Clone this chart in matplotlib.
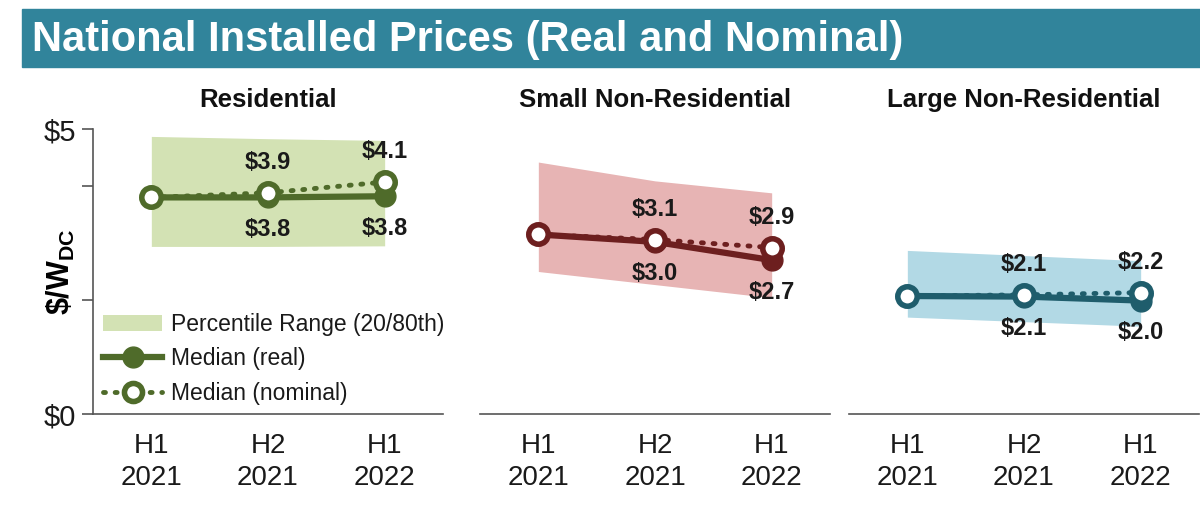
import matplotlib
matplotlib.use("Agg")
import matplotlib.pyplot as plt
from matplotlib.patches import Patch, Rectangle
from matplotlib.lines import Line2D

plt.rcParams['font.family'] = ['Liberation Sans', 'DejaVu Sans']
plt.rcParams['mathtext.fontset'] = 'custom'
plt.rcParams['mathtext.rm'] = 'Liberation Sans'
plt.rcParams['mathtext.bf'] = 'Liberation Sans:bold'

# data
periods = ["H1\n2021", "H2\n2021", "H1\n2022"]
segments = ["Residential", "Small Non-Residential", "Large Non-Residential"]

res_real = [3.80, 3.80, 3.82]
res_nom = [3.80, 3.88, 4.07]
res_p20 = [2.94, 2.94, 2.95]
res_p80 = [4.87, 4.83, 4.80]
res_lbl_nom = ["", "$3.9", "$4.1"]
res_lbl_real = ["", "$3.8", "$3.8"]

small_real = [3.15, 3.02, 2.70]
small_nom = [3.15, 3.06, 2.92]
small_p20 = [2.50, 2.27, 2.04]
small_p80 = [4.42, 4.09, 3.88]
small_lbl_nom = ["", "$3.1", "$2.9"]
small_lbl_real = ["", "$3.0", "$2.7"]

large_real = [2.07, 2.06, 1.99]
large_nom = [2.07, 2.09, 2.13]
large_p20 = [1.70, 1.62, 1.54]
large_p80 = [2.87, 2.78, 2.69]
large_lbl_nom = ["", "$2.1", "$2.2"]
large_lbl_real = ["", "$2.1", "$2.0"]

panels = [
    (res_real, res_nom, res_p20, res_p80, res_lbl_nom, res_lbl_real, "#4f6b2a", "#d3e2b4"),
    (small_real, small_nom, small_p20, small_p80, small_lbl_nom, small_lbl_real, "#6d1f1f", "#e7b4b4"),
    (large_real, large_nom, large_p20, large_p80, large_lbl_nom, large_lbl_real, "#1f5d6c", "#b2d9e5"),
]

W, H = 1200, 518
fig = plt.figure(figsize=(W / 100, H / 100), dpi=100)

# header banner
fig.patches.append(Rectangle((22 / W, 1 - 67 / H), 1 - 22 / W, 58 / H,
                             transform=fig.transFigure, color="#31849b", zorder=0))
fig.text(32 / W, 1 - 40 / H, "National Installed Prices (Real and Nominal)",
         color="white", fontsize=30, fontweight="bold", va="center", ha="left")

lefts = [93, 480, 849]
width = 350
bottom = (H - 414) / H
height = (414 - 129) / H

x = list(range(len(periods)))
for i, (real, nom, p20, p80, lbl_n, lbl_r, col, band) in enumerate(panels):
    ax = fig.add_axes([lefts[i] / W, bottom, width / W, height])
    ax.fill_between(x, p20, p80, color=band, linewidth=0, zorder=1)
    ax.plot(x, real, color=col, lw=4.5, marker="o", ms=15, mfc=col, mec=col, zorder=3)
    ax.plot(x, nom, color=col, lw=3.5, ls=(0, (0.4, 2.0)), dash_capstyle="round",
            marker="o", ms=14, mfc="white", mec=col, mew=4, zorder=4)
    for j in x:
        if lbl_n[j]:
            ax.annotate(lbl_n[j].replace("$", r"\$"), (j, nom[j]), xytext=(0, 22),
                        textcoords="offset points", ha="center", va="center",
                        fontsize=17, fontweight="bold", color="#1a1a1a")
        if lbl_r[j]:
            ax.annotate(lbl_r[j].replace("$", r"\$"), (j, real[j]), xytext=(0, -23),
                        textcoords="offset points", ha="center", va="center",
                        fontsize=17, fontweight="bold", color="#1a1a1a")
    ax.set_xlim(-0.5, 2.5)
    ax.set_ylim(0, 5)
    ax.set_xticks(x)
    ax.set_xticklabels(periods, fontsize=20, color="#1a1a1a", linespacing=1.3)
    ax.tick_params(axis="x", length=0, pad=14)
    for s in ["top", "right"]:
        ax.spines[s].set_visible(False)
    ax.spines["bottom"].set_color("#555555")
    ax.spines["bottom"].set_linewidth(1.2)
    ax.patch.set_alpha(0)
    ax.set_title(segments[i], fontsize=18.5, fontweight="bold", pad=16, color="#111111")
    if i == 0:
        ax.spines["left"].set_color("#555555")
        ax.spines["left"].set_linewidth(1.2)
        ax.set_yticks([0, 2, 4, 5])
        ax.set_yticklabels([r"\$0", "", "", r"\$5"], fontsize=21, color="#1a1a1a")
        ax.tick_params(axis="y", length=8, width=1.2, color="#555555", pad=4)
        ax.set_ylabel(r"$\mathbf{\$/W_{DC}}$", fontsize=22)
        ax.yaxis.set_label_coords(-0.045, 0.5)
        handles = [
            Patch(facecolor=band, edgecolor="none"),
            Line2D([], [], color=col, lw=4.5, marker="o", ms=15, mfc=col, mec=col),
            Line2D([], [], color=col, lw=3.5, ls=(0, (0.4, 2.0)), dash_capstyle="round",
                   marker="o", ms=13, mfc="white", mec=col, mew=4),
        ]
        ax.legend(handles, ["Percentile Range (20/80th)", "Median (real)", "Median (nominal)"],
                  loc="lower left", bbox_to_anchor=(-0.005, -0.01), frameon=False,
                  fontsize=16.5, handlelength=2.6, handletextpad=0.4, labelspacing=0.52,
                  borderaxespad=0.1, labelcolor="#1a1a1a")
    else:
        ax.spines["left"].set_visible(False)
        ax.set_yticks([])

fig.savefig("out.png", dpi=100)
